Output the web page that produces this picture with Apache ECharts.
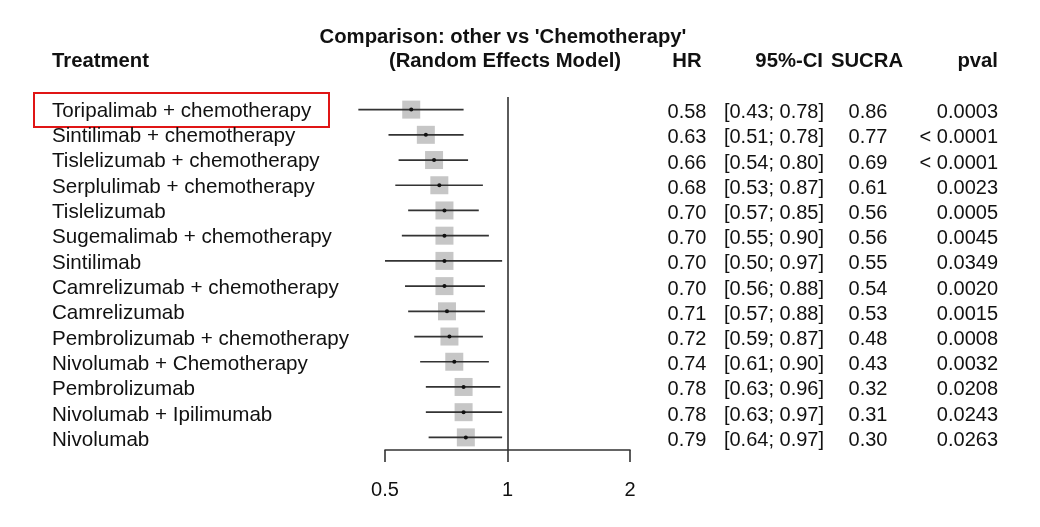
<!DOCTYPE html>
<html><head><meta charset="utf-8">
<script src="https://cdn.jsdelivr.net/npm/echarts@6/dist/echarts.min.js"></script>
<style>html,body{margin:0;padding:0;background:#fff}#c{width:1040px;height:527px}</style>
</head><body><div id="c"></div>
<script>
const treatments = ['Toripalimab + chemotherapy','Sintilimab + chemotherapy','Tislelizumab + chemotherapy','Serplulimab + chemotherapy','Tislelizumab','Sugemalimab + chemotherapy','Sintilimab','Camrelizumab + chemotherapy','Camrelizumab','Pembrolizumab + chemotherapy','Nivolumab + Chemotherapy','Pembrolizumab','Nivolumab + Ipilimumab','Nivolumab'];
const hr = [0.58,0.63,0.66,0.68,0.70,0.70,0.70,0.70,0.71,0.72,0.74,0.78,0.78,0.79];
const ciLow = [0.43,0.51,0.54,0.53,0.57,0.55,0.50,0.56,0.57,0.59,0.61,0.63,0.63,0.64];
const ciHigh = [0.78,0.78,0.80,0.87,0.85,0.90,0.97,0.88,0.88,0.87,0.90,0.96,0.97,0.97];
const sucra = [0.86,0.77,0.69,0.61,0.56,0.56,0.55,0.54,0.53,0.48,0.43,0.32,0.31,0.30];
const pval = ['0.0003','< 0.0001','< 0.0001','0.0023','0.0005','0.0045','0.0349','0.0020','0.0015','0.0008','0.0032','0.0208','0.0243','0.0263'];
const xTicks = [0.5, 1, 2];
const refValue = 1;

const FONT = '"Liberation Sans", Arial, sans-serif';
const fmt2 = v => v.toFixed(2);
const chart = echarts.init(document.getElementById('c'), null, {renderer:'canvas'});

const forestData = treatments.map((t,i)=>[i, ciLow[i], ciHigh[i], hr[i]]);
const textData = treatments.map((t,i)=>[i, hr[i], ciLow[i], ciHigh[i], sucra[i], pval[i]]);

const option = {
  backgroundColor:'#fff',
  animation:false,
  grid:{left:385, width:245, top:97, height:353},
  xAxis:{
    type:'log', logBase:2, min:0.5, max:2,
    axisLine:{show:true, lineStyle:{color:'#333', width:1.6}},
    axisTick:{show:true, length:12, lineStyle:{color:'#333', width:1.6}, customValues:xTicks},
    axisLabel:{show:true, margin:30, fontSize:20, fontFamily:FONT, color:'#111', customValues:xTicks,
      formatter: v => String(+(+v).toFixed(3))},
    splitLine:{show:false}
  },
  yAxis:{
    type:'category', inverse:true, data:treatments,
    axisLine:{show:false}, axisTick:{show:false}, splitLine:{show:false},
    axisLabel:{show:false}
  },
  series:[
    {
      type:'custom', clip:false, data:forestData,
      encode:{x:[1,2,3], y:0},
      renderItem:(params, api)=>{
        const i = api.value(0);
        const lo = api.coord([api.value(1), i]);
        const hi = api.coord([api.value(2), i]);
        const c = api.coord([api.value(3), i]);
        const s = 18;
        return {type:'group', children:[
          {type:'rect', shape:{x:c[0]-s/2, y:c[1]-s/2, width:s, height:s}, style:{fill:'#c6c6c6'}},
          {type:'line', shape:{x1:lo[0], y1:lo[1], x2:hi[0], y2:hi[1]}, style:{stroke:'#333', lineWidth:1.7}},
          {type:'circle', shape:{cx:c[0], cy:c[1], r:2}, style:{fill:'#111'}}
        ]};
      },
      markLine:{
        silent:true, symbol:'none', label:{show:false},
        lineStyle:{color:'#333', width:1.6, type:'solid'},
        data:[{xAxis:refValue}]
      }
    },
    {
      type:'custom', clip:false, data:textData,
      encode:{y:0},
      renderItem:(params, api)=>{
        const i = api.value(0);
        const yc = api.coord([1, i])[1];
        const st = (text, x, align, dy, size) => ({type:'text', x:x, y:yc + dy,
          style:{text:text, font:size+'px '+FONT, fill:'#111', align:align, verticalAlign:'middle'}});
        return {type:'group', children:[
          st(treatments[i], 52, 'left', 1.5 + i*0.12, 20.6),
          st(fmt2(hr[i]), 687, 'center', 3, 20),
          st('['+fmt2(ciLow[i])+'; '+fmt2(ciHigh[i])+']', 824, 'right', 3, 20),
          st(fmt2(sucra[i]), 868, 'center', 3, 20),
          st(pval[i], 998, 'right', 3, 20)
        ]};
      }
    }
  ],
  graphic:[
    {type:'text', x:503, y:37, style:{text:"Comparison: other vs 'Chemotherapy'", font:'bold 20.3px '+FONT, fill:'#111', align:'center', verticalAlign:'middle'}},
    {type:'text', x:505, y:61, style:{text:'(Random Effects Model)', font:'bold 20.3px '+FONT, fill:'#111', align:'center', verticalAlign:'middle'}},
    {type:'text', x:52, y:61, style:{text:'Treatment', font:'bold 20.3px '+FONT, fill:'#111', align:'left', verticalAlign:'middle'}},
    {type:'text', x:687, y:61, style:{text:'HR', font:'bold 20.3px '+FONT, fill:'#111', align:'center', verticalAlign:'middle'}},
    {type:'text', x:823, y:61, style:{text:'95%-CI', font:'bold 20.3px '+FONT, fill:'#111', align:'right', verticalAlign:'middle'}},
    {type:'text', x:867, y:61, style:{text:'SUCRA', font:'bold 20.3px '+FONT, fill:'#111', align:'center', verticalAlign:'middle'}},
    {type:'text', x:998, y:61, style:{text:'pval', font:'bold 20.3px '+FONT, fill:'#111', align:'right', verticalAlign:'middle'}},
    {type:'rect', shape:{x:34, y:93, width:295, height:34}, style:{fill:'none', stroke:'#e01515', lineWidth:2}}
  ]
};
chart.setOption(option);
</script></body></html>
